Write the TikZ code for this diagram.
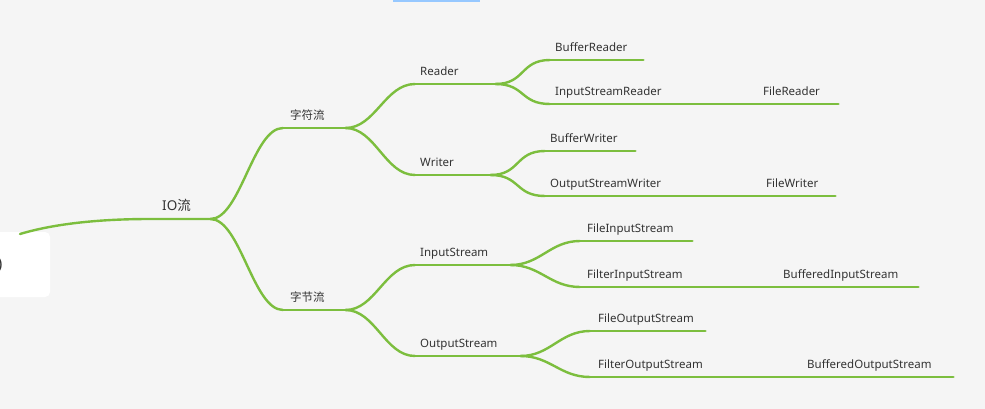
\documentclass[tikz,border=0pt]{standalone}
\usepackage{fontspec}
\setmainfont{Noto Sans}
\newfontfamily\cjk{Noto Sans CJK SC}
\definecolor{lgreen}{RGB}{124,190,62}
\definecolor{lblue}{RGB}{150,200,255}
\definecolor{bgc}{RGB}{245,245,245}
\begin{document}
\begin{tikzpicture}[x=1pt,y=-1pt,
  gl/.style={line width=2.4pt,draw=lgreen,line cap=round},
  txt/.style={font=\fontsize{11.5}{13}\selectfont,text=black!80}]
\fill[bgc] (0,0) rectangle (985,409);
\useasboundingbox (0,0) rectangle (985,409);
\fill[lblue] (393,0) rectangle (480,2);
\fill[white,rounded corners=5pt] (-10,232) rectangle (50,297);
\node[anchor=west,font=\fontsize{16}{18}\selectfont,text=black!80,inner sep=0] (root) at (-2.5,265) {)};
\newcommand{\br}[6]{%
  \node[txt,anchor=south west,inner xsep=0,inner ysep=0,minimum width={#3-#2},text width={#3-#2},align=left,text height=10pt,text depth=8pt] (#1) at (#2,#4) {\hspace*{#5pt}#6};
  \draw[gl] (#1.south west)--(#1.south east);}
\coordinate (r0) at (20,234);
\node[anchor=south west,inner xsep=0,inner ysep=0,minimum width=60,text width=60,align=left,text height=11pt,text depth=8pt,font=\fontsize{13.5}{15}\selectfont,text=black!80] (io) at (150,219) {\hspace*{12pt}IO{\cjk 流}};
\draw[gl] (r0) .. controls (60,222) and (110,219) .. (io.south west) -- (io.south east);
\br{zf}{283}{345}{128}{7}{{\cjk 字符流}}
\br{zj}{283}{345}{310}{7}{{\cjk 字节流}}
\br{rd}{415}{495}{84}{5}{Reader}
\br{wr}{415}{490}{175}{5}{Writer}
\br{is}{415}{510}{265}{5}{InputStream}
\br{os}{415}{520}{356}{5}{OutputStream}
\br{brd}{550}{643}{60}{5}{BufferReader}
\br{isr}{550}{697}{104}{5}{InputStreamReader}
\br{fr}{697}{838}{104}{66}{FileReader}
\br{bw}{545}{635}{151}{5}{BufferWriter}
\br{osw}{545}{697}{196}{5}{OutputStreamWriter}
\br{fw}{697}{835}{196}{69}{FileWriter}
\br{fis}{580}{692}{241}{7}{FileInputStream}
\br{flis}{580}{750}{287}{7}{FilterInputStream}
\br{bis}{750}{918}{287}{33}{BufferedInputStream}
\br{fos}{590}{705}{331}{8}{FileOutputStream}
\br{flos}{590}{760}{377}{8}{FilterOutputStream}
\br{bos}{760}{953}{377}{47}{BufferedOutputStream}
\foreach \a/\b in {io/zf,io/zj,zf/rd,zf/wr,zj/is,zj/os,rd/brd,rd/isr,wr/bw,wr/osw,is/fis,is/flis,os/fos,os/flos}
  \draw[gl] (\a.south east) .. controls +(30,0) and +(-30,0) .. (\b.south west);
\end{tikzpicture}
\end{document}
